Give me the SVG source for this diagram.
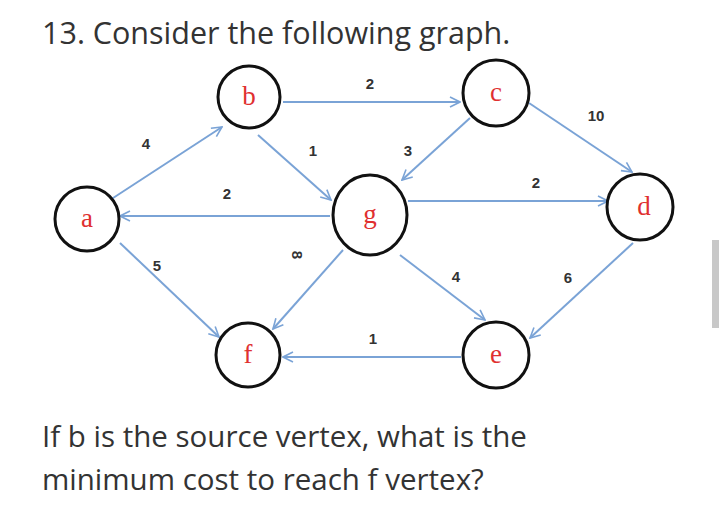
<svg xmlns="http://www.w3.org/2000/svg" width="719" height="505" viewBox="0 0 719 505">
<style>
.n{fill:#fff;stroke:#111;stroke-width:3}
.nl{font-family:"Liberation Serif",serif;font-size:27px;fill:#e03030;text-anchor:middle}
.e{stroke:#7aa3d6;stroke-width:2;fill:none;marker-end:url(#ar)}
.w{font-family:"Liberation Sans",sans-serif;font-size:15px;font-weight:bold;fill:#333;text-anchor:middle}
.t{font-family:"Open Sans",sans-serif;fill:#333}
</style>
<defs><marker id="ar" viewBox="0 0 12 12" refX="11" refY="6" markerWidth="12" markerHeight="12" markerUnits="userSpaceOnUse" orient="auto"><path d="M1,1 L11,6 L1,11" fill="none" stroke="#7aa3d6" stroke-width="1.6"/></marker></defs>
<rect width="719" height="505" fill="#fff"/>
<rect x="712" y="240" width="7" height="88" fill="#c8c8c8"/>
<text class="t" x="42" y="44" font-size="30.5">13. Consider the following graph.</text>
<g id="edges">
<line class="e" x1="283" y1="102" x2="460" y2="102"/>
<line class="e" x1="258" y1="135" x2="331" y2="200"/>
<line class="e" x1="110" y1="200" x2="222" y2="127"/>
<line class="e" x1="330" y1="216" x2="120" y2="216"/>
<line class="e" x1="120" y1="243" x2="219" y2="337"/>
<line class="e" x1="343" y1="250" x2="273" y2="329"/>
<line class="e" x1="470" y1="118" x2="402" y2="180"/>
<line class="e" x1="529" y1="103" x2="632" y2="172"/>
<line class="e" x1="408" y1="201" x2="608" y2="201"/>
<line class="e" x1="400" y1="255" x2="485" y2="320"/>
<line class="e" x1="633" y1="243" x2="530" y2="338"/>
<line class="e" x1="461" y1="357" x2="283" y2="357"/>
<text class="w" x="370" y="89">2</text>
<text class="w" x="146" y="149">4</text>
<text class="w" x="313" y="156">1</text>
<text class="w" x="408" y="156">3</text>
<text class="w" x="596" y="121">10</text>
<text class="w" x="227" y="199">2</text>
<text class="w" x="536" y="188">2</text>
<text class="w" x="157" y="271">5</text>
<text class="w" x="297" y="260" transform="rotate(90 297 255)">8</text>
<text class="w" x="456" y="282">4</text>
<text class="w" x="568" y="283">6</text>
<text class="w" x="373" y="344">1</text>
</g>
<g id="a"><circle class="n" cx="87" cy="219" r="32"/><text class="nl" x="87" y="227">a</text></g>
<g id="b"><circle class="n" cx="249" cy="97" r="31"/><text class="nl" x="249" y="105">b</text></g>
<g id="c"><circle class="n" cx="496" cy="93" r="33"/><text class="nl" x="496" y="101">c</text></g>
<g id="g"><ellipse class="n" cx="370" cy="215" rx="37" ry="40"/><text class="nl" x="370" y="223">g</text></g>
<g id="d"><circle class="n" cx="640" cy="207" r="33"/><text class="nl" x="644" y="215">d</text></g>
<g id="f"><circle class="n" cx="248" cy="355" r="32"/><text class="nl" x="248" y="363">f</text></g>
<g id="e"><circle class="n" cx="496" cy="355" r="33"/><text class="nl" x="496" y="363">e</text></g>
<text class="t" x="42" y="447" font-size="29.5">If b is the source vertex, what is the</text>
<text class="t" x="42" y="490" font-size="29.5">minimum cost to reach f vertex?</text>
</svg>
